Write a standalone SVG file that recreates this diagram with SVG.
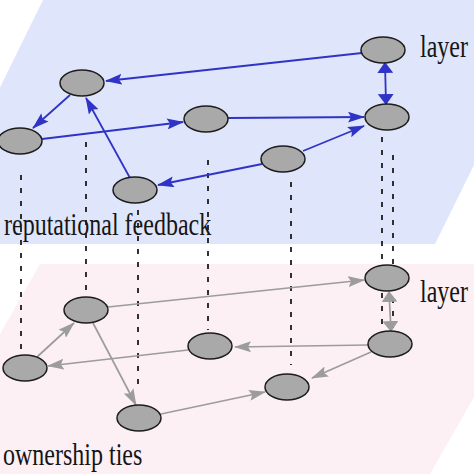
<svg xmlns="http://www.w3.org/2000/svg" width="474" height="474" viewBox="0 0 474 474">
<style>
.node ellipse{fill:#a9a9a9;stroke:#1c1c1c;stroke-width:1.5}
.blue{stroke:#2f34c6;stroke-width:1.8;fill:none}
.gray{stroke:#9c9c9c;stroke-width:1.7;fill:none}
.dash{stroke:#1c1c1c;stroke-width:1.8;stroke-dasharray:5 8;fill:none}
.lbl{font-family:"Liberation Serif","Times New Roman",serif;font-size:24px;fill:#151515}
</style>
<defs>
<marker id="ab" viewBox="0 0 17 11" refX="16" refY="5.5" markerWidth="17" markerHeight="11" orient="auto" markerUnits="userSpaceOnUse"><path d="M0,0 L17,5.5 L0,11 L3,5.5 z" fill="#2f34c6"/></marker>
<marker id="abv" viewBox="0 0 11 16" refX="10" refY="8" markerWidth="11" markerHeight="16" orient="auto-start-reverse" markerUnits="userSpaceOnUse"><path d="M0,0 L11,8 L0,16 z" fill="#2f34c6"/></marker>
<marker id="ag" viewBox="0 0 17 11" refX="16" refY="5.5" markerWidth="17" markerHeight="11" orient="auto" markerUnits="userSpaceOnUse"><path d="M0,0 L17,5.5 L0,11 L3,5.5 z" fill="#9c9c9c"/></marker>
<marker id="agv" viewBox="0 0 11 16" refX="10" refY="8" markerWidth="11" markerHeight="16" orient="auto-start-reverse" markerUnits="userSpaceOnUse"><path d="M0,0 L11,8 L0,16 z" fill="#9c9c9c"/></marker>
</defs>
<rect width="474" height="474" fill="#ffffff"/>
<g id="planes">
<polygon points="43,0 474,0 474,165 435,244 -77,244" fill="#dfe5fa"/>
<polygon points="40,264 474,264 474,397 430,474 -80,474" fill="#fcf0f4"/>
</g>
<g id="labels">
<text class="lbl" transform="translate(420,57) scale(1,1.3)">layer</text>
<text class="lbl" transform="translate(4,235) scale(1,1.3)">reputational feedback</text>
<text class="lbl" transform="translate(420,302) scale(1,1.3)">layer</text>
<text class="lbl" transform="translate(3,465) scale(1,1.3)">ownership ties</text>
</g>
<g id="connectors">
<path class="dash" d="M21,175 V355"/>
<path class="dash" d="M86,142 V297"/>
<path class="dash" d="M138,210 V385"/>
<path class="dash" d="M208,160 V330"/>
<path class="dash" d="M291,182 V365"/>
<path class="dash" d="M382,137 V328"/>
<path class="dash" d="M393,155 V328"/>
<path class="blue" d="M362,53 L106,81" marker-end="url(#ab)"/>
<path class="blue" d="M70,95 L33,128" marker-end="url(#ab)"/>
<path class="blue" d="M42,139 L183,122" marker-end="url(#ab)"/>
<path class="blue" d="M228,118 L364,117" marker-end="url(#ab)"/>
<path class="blue" d="M303,151 L364,126" marker-end="url(#ab)"/>
<path class="blue" d="M262,164 L158,185" marker-end="url(#ab)"/>
<path class="blue" d="M130,178 L86,98" marker-end="url(#ab)"/>
<path class="blue" d="M385,63 L386,104" marker-start="url(#abv)" marker-end="url(#abv)"/>
<path class="gray" d="M108,307 L364,280" marker-end="url(#ag)"/>
<path class="gray" d="M37,357 L74,323" marker-end="url(#ag)"/>
<path class="gray" d="M93,323 L136,405" marker-end="url(#ag)"/>
<path class="gray" d="M161,414 L265,392" marker-end="url(#ag)"/>
<path class="gray" d="M368,345 L235,347" marker-end="url(#ag)"/>
<path class="gray" d="M188,350 L48,366" marker-end="url(#ag)"/>
<path class="gray" d="M371,352 L312,378" marker-end="url(#ag)"/>
<path class="gray" d="M389,292 L391,331" marker-start="url(#agv)" marker-end="url(#agv)"/>
</g>
<g id="N1" class="node"><ellipse cx="383" cy="50" rx="22" ry="13"/></g>
<g id="N2" class="node"><ellipse cx="82" cy="83" rx="22" ry="13"/></g>
<g id="N3" class="node"><ellipse cx="20" cy="141" rx="22" ry="13"/></g>
<g id="N4" class="node"><ellipse cx="206" cy="119" rx="22" ry="13"/></g>
<g id="N5" class="node"><ellipse cx="387" cy="117" rx="22" ry="13"/></g>
<g id="N6" class="node"><ellipse cx="283" cy="159" rx="22" ry="13"/></g>
<g id="N7" class="node"><ellipse cx="135" cy="190" rx="22" ry="13"/></g>
<g id="M1" class="node"><ellipse cx="387" cy="278" rx="22" ry="13"/></g>
<g id="M2" class="node"><ellipse cx="86" cy="310" rx="22" ry="13"/></g>
<g id="M3" class="node"><ellipse cx="390" cy="344" rx="22" ry="13"/></g>
<g id="M4" class="node"><ellipse cx="210" cy="346" rx="22" ry="13"/></g>
<g id="M5" class="node"><ellipse cx="25" cy="368" rx="22" ry="13"/></g>
<g id="M6" class="node"><ellipse cx="287" cy="387" rx="22" ry="13"/></g>
<g id="M7" class="node"><ellipse cx="139" cy="418" rx="22" ry="13"/></g>
</svg>
